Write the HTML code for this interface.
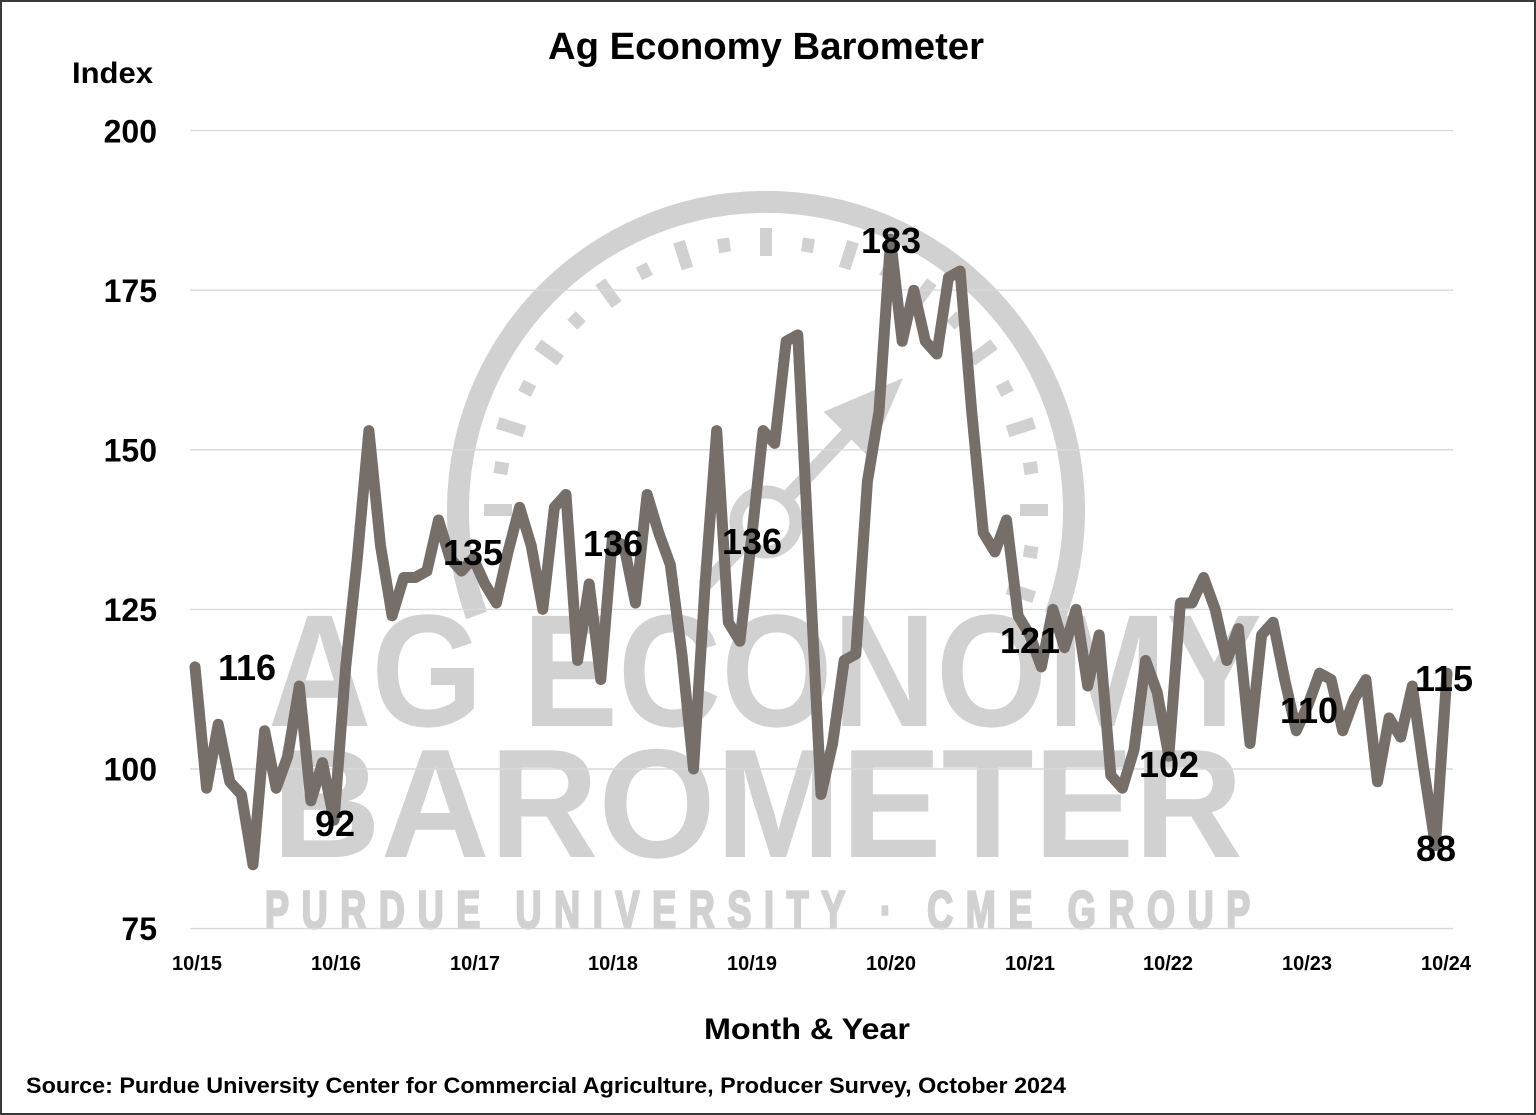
<!DOCTYPE html>
<html>
<head>
<meta charset="utf-8">
<style>
html,body{margin:0;padding:0;background:#fff;}
svg{display:block;}
</style>
</head>
<body>
<svg width="1536" height="1115" viewBox="0 0 1536 1115" xmlns="http://www.w3.org/2000/svg" font-family="'Liberation Sans', Arial, sans-serif" font-weight="bold">
<rect width="1536" height="1115" fill="#ffffff"/>

<!-- Watermark -->
<g fill="none" stroke="#d1d1d1">
  <path d="M 476.6 615.3 A 308 308 0 1 1 1055.4 615.3" stroke-width="22"/>
</g>
<g fill="#d1d1d1">
  <rect x="760" y="228" width="12" height="28" transform="rotate(-90 766 510)"/>
  <rect x="760" y="235" width="12" height="14" transform="rotate(-81 766 510)"/>
  <rect x="760" y="228" width="12" height="28" transform="rotate(-72 766 510)"/>
  <rect x="760" y="235" width="12" height="14" transform="rotate(-63 766 510)"/>
  <rect x="760" y="228" width="12" height="28" transform="rotate(-54 766 510)"/>
  <rect x="760" y="235" width="12" height="14" transform="rotate(-45 766 510)"/>
  <rect x="760" y="228" width="12" height="28" transform="rotate(-36 766 510)"/>
  <rect x="760" y="235" width="12" height="14" transform="rotate(-27 766 510)"/>
  <rect x="760" y="228" width="12" height="28" transform="rotate(-18 766 510)"/>
  <rect x="760" y="235" width="12" height="14" transform="rotate(-9 766 510)"/>
  <rect x="760" y="228" width="12" height="28" transform="rotate(0 766 510)"/>
  <rect x="760" y="235" width="12" height="14" transform="rotate(9 766 510)"/>
  <rect x="760" y="228" width="12" height="28" transform="rotate(18 766 510)"/>
  <rect x="760" y="235" width="12" height="14" transform="rotate(27 766 510)"/>
  <rect x="760" y="228" width="12" height="28" transform="rotate(36 766 510)"/>
  <rect x="760" y="235" width="12" height="14" transform="rotate(45 766 510)"/>
  <rect x="760" y="228" width="12" height="28" transform="rotate(54 766 510)"/>
  <rect x="760" y="235" width="12" height="14" transform="rotate(63 766 510)"/>
  <rect x="760" y="228" width="12" height="28" transform="rotate(72 766 510)"/>
  <rect x="760" y="235" width="12" height="14" transform="rotate(81 766 510)"/>
  <rect x="760" y="228" width="12" height="28" transform="rotate(90 766 510)"/>
  <rect x="760" y="235" width="12" height="14" transform="rotate(99 766 510)"/>
  <rect x="760" y="228" width="12" height="28" transform="rotate(108 766 510)"/>
</g>
<g>
  <line x1="704" y1="586" x2="850" y2="431" stroke="#d1d1d1" stroke-width="14"/>
  <polygon points="903,378 823.7,411.7 868.9,457.1" fill="#d1d1d1"/>
  <circle cx="766" cy="522" r="30" fill="#ffffff" stroke="#d1d1d1" stroke-width="13"/>
</g>
<g fill="#d1d1d1">
  <text x="268" y="726" font-size="160" textLength="994" lengthAdjust="spacingAndGlyphs">AG ECONOMY</text>
  <text x="272" y="857" font-size="155" textLength="971" lengthAdjust="spacingAndGlyphs">BAROMETER</text>
  <g transform="translate(265,928) scale(0.68,1)">
    <text x="0" y="0" font-size="53" textLength="1449" lengthAdjust="spacing" stroke="#d1d1d1" stroke-width="2.5">PURDUE UNIVERSITY · CME GROUP</text>
  </g>
</g>

<!-- Gridlines -->
<g stroke="#d9d9d9" stroke-width="1.4">
  <line x1="190" y1="130.6" x2="1453" y2="130.6"/>
  <line x1="190" y1="290.2" x2="1453" y2="290.2"/>
  <line x1="190" y1="449.8" x2="1453" y2="449.8"/>
  <line x1="190" y1="609.4" x2="1453" y2="609.4"/>
  <line x1="190" y1="769.0" x2="1453" y2="769.0"/>
  <line x1="190" y1="928.6" x2="1453" y2="928.6"/>
</g>

<!-- Data line -->
<polyline fill="none" stroke="#756e69" stroke-width="11" stroke-linejoin="round" stroke-linecap="round"
points="195.0,666.9 206.6,788.2 218.2,724.3 229.8,781.8 241.4,794.5 253.0,864.8 264.6,730.7 276.2,788.2 287.7,756.2 299.3,686.0 310.9,800.9 322.5,762.6 334.1,820.1 345.7,666.9 357.3,558.3 368.9,430.6 380.5,545.6 392.1,615.8 403.7,577.5 415.3,577.5 426.9,571.1 438.5,520.0 450.0,558.3 461.6,571.1 473.2,558.3 484.8,583.9 496.4,603.0 508.0,551.9 519.6,507.3 531.2,545.6 542.8,609.4 554.4,507.3 566.0,494.5 577.6,660.5 589.2,583.9 600.8,679.6 612.3,539.2 623.9,545.6 635.5,603.0 647.1,494.5 658.7,532.8 670.3,564.7 681.9,654.1 693.5,769.0 705.1,583.9 716.7,430.6 728.3,622.2 739.9,641.3 751.5,539.2 763.1,430.6 774.7,443.4 786.2,341.3 797.8,334.9 809.4,564.7 821.0,794.5 832.6,743.5 844.2,660.5 855.8,654.1 867.4,481.7 879.0,411.5 890.6,239.1 902.2,341.3 913.8,290.2 925.4,341.3 936.9,354.0 948.5,277.4 960.1,271.0 971.7,411.5 983.3,532.8 994.9,551.9 1006.5,520.0 1018.1,615.8 1029.7,634.9 1041.3,666.9 1052.9,609.4 1064.5,647.7 1076.1,609.4 1087.7,686.0 1099.2,634.9 1110.8,775.4 1122.4,788.2 1134.0,749.8 1145.6,660.5 1157.2,692.4 1168.8,756.2 1180.4,603.0 1192.0,603.0 1203.6,577.5 1215.2,609.4 1226.8,660.5 1238.4,628.6 1250.0,743.5 1261.6,634.9 1273.1,622.2 1284.7,679.6 1296.3,730.7 1307.9,705.2 1319.5,673.2 1331.1,679.6 1342.7,730.7 1354.3,698.8 1365.9,679.6 1377.5,781.8 1389.1,717.9 1400.7,737.1 1412.3,686.0 1423.8,769.0 1435.4,845.6 1447.0,673.2"/>

<!-- Data labels -->
<g fill="#000" font-size="36" text-anchor="middle">
  <text x="247" y="680">116</text>
  <text x="335" y="836">92</text>
  <text x="473" y="565">135</text>
  <text x="613" y="556">136</text>
  <text x="752" y="554">136</text>
  <text x="891" y="253">183</text>
  <text x="1030" y="653">121</text>
  <text x="1169" y="777">102</text>
  <text x="1309" y="723">110</text>
  <text x="1444" y="691">115</text>
  <text x="1436" y="861">88</text>
</g>

<!-- Y axis labels -->
<g fill="#000" font-size="32" text-anchor="end">
  <text x="157" y="142.5">200</text>
  <text x="157" y="302">175</text>
  <text x="157" y="461.5">150</text>
  <text x="157" y="621">125</text>
  <text x="157" y="780.5">100</text>
  <text x="157" y="940">75</text>
</g>
<text x="72" y="83" font-size="30" fill="#000" textLength="81" lengthAdjust="spacingAndGlyphs">Index</text>

<!-- X axis labels -->
<g fill="#000" font-size="20" text-anchor="middle">
  <text x="197" y="970" textLength="50" lengthAdjust="spacingAndGlyphs">10/15</text>
  <text x="336" y="970" textLength="50" lengthAdjust="spacingAndGlyphs">10/16</text>
  <text x="475" y="970" textLength="50" lengthAdjust="spacingAndGlyphs">10/17</text>
  <text x="613" y="970" textLength="50" lengthAdjust="spacingAndGlyphs">10/18</text>
  <text x="752" y="970" textLength="50" lengthAdjust="spacingAndGlyphs">10/19</text>
  <text x="891" y="970" textLength="50" lengthAdjust="spacingAndGlyphs">10/20</text>
  <text x="1030" y="970" textLength="50" lengthAdjust="spacingAndGlyphs">10/21</text>
  <text x="1168" y="970" textLength="50" lengthAdjust="spacingAndGlyphs">10/22</text>
  <text x="1307" y="970" textLength="50" lengthAdjust="spacingAndGlyphs">10/23</text>
  <text x="1446" y="970" textLength="50" lengthAdjust="spacingAndGlyphs">10/24</text>
</g>

<!-- Titles -->
<text x="766" y="59" font-size="38" fill="#000" text-anchor="middle" textLength="436" lengthAdjust="spacingAndGlyphs">Ag Economy Barometer</text>
<text x="807" y="1039" font-size="30" fill="#000" text-anchor="middle" textLength="206" lengthAdjust="spacingAndGlyphs">Month &amp; Year</text>
<text x="26" y="1093" font-size="22" fill="#000" textLength="1040" lengthAdjust="spacingAndGlyphs">Source: Purdue University Center for Commercial Agriculture, Producer Survey, October 2024</text>

<!-- Border -->
<rect x="1" y="1" width="1534" height="1113" fill="none" stroke="#3a3a3a" stroke-width="2"/>
</svg>
</body>
</html>
